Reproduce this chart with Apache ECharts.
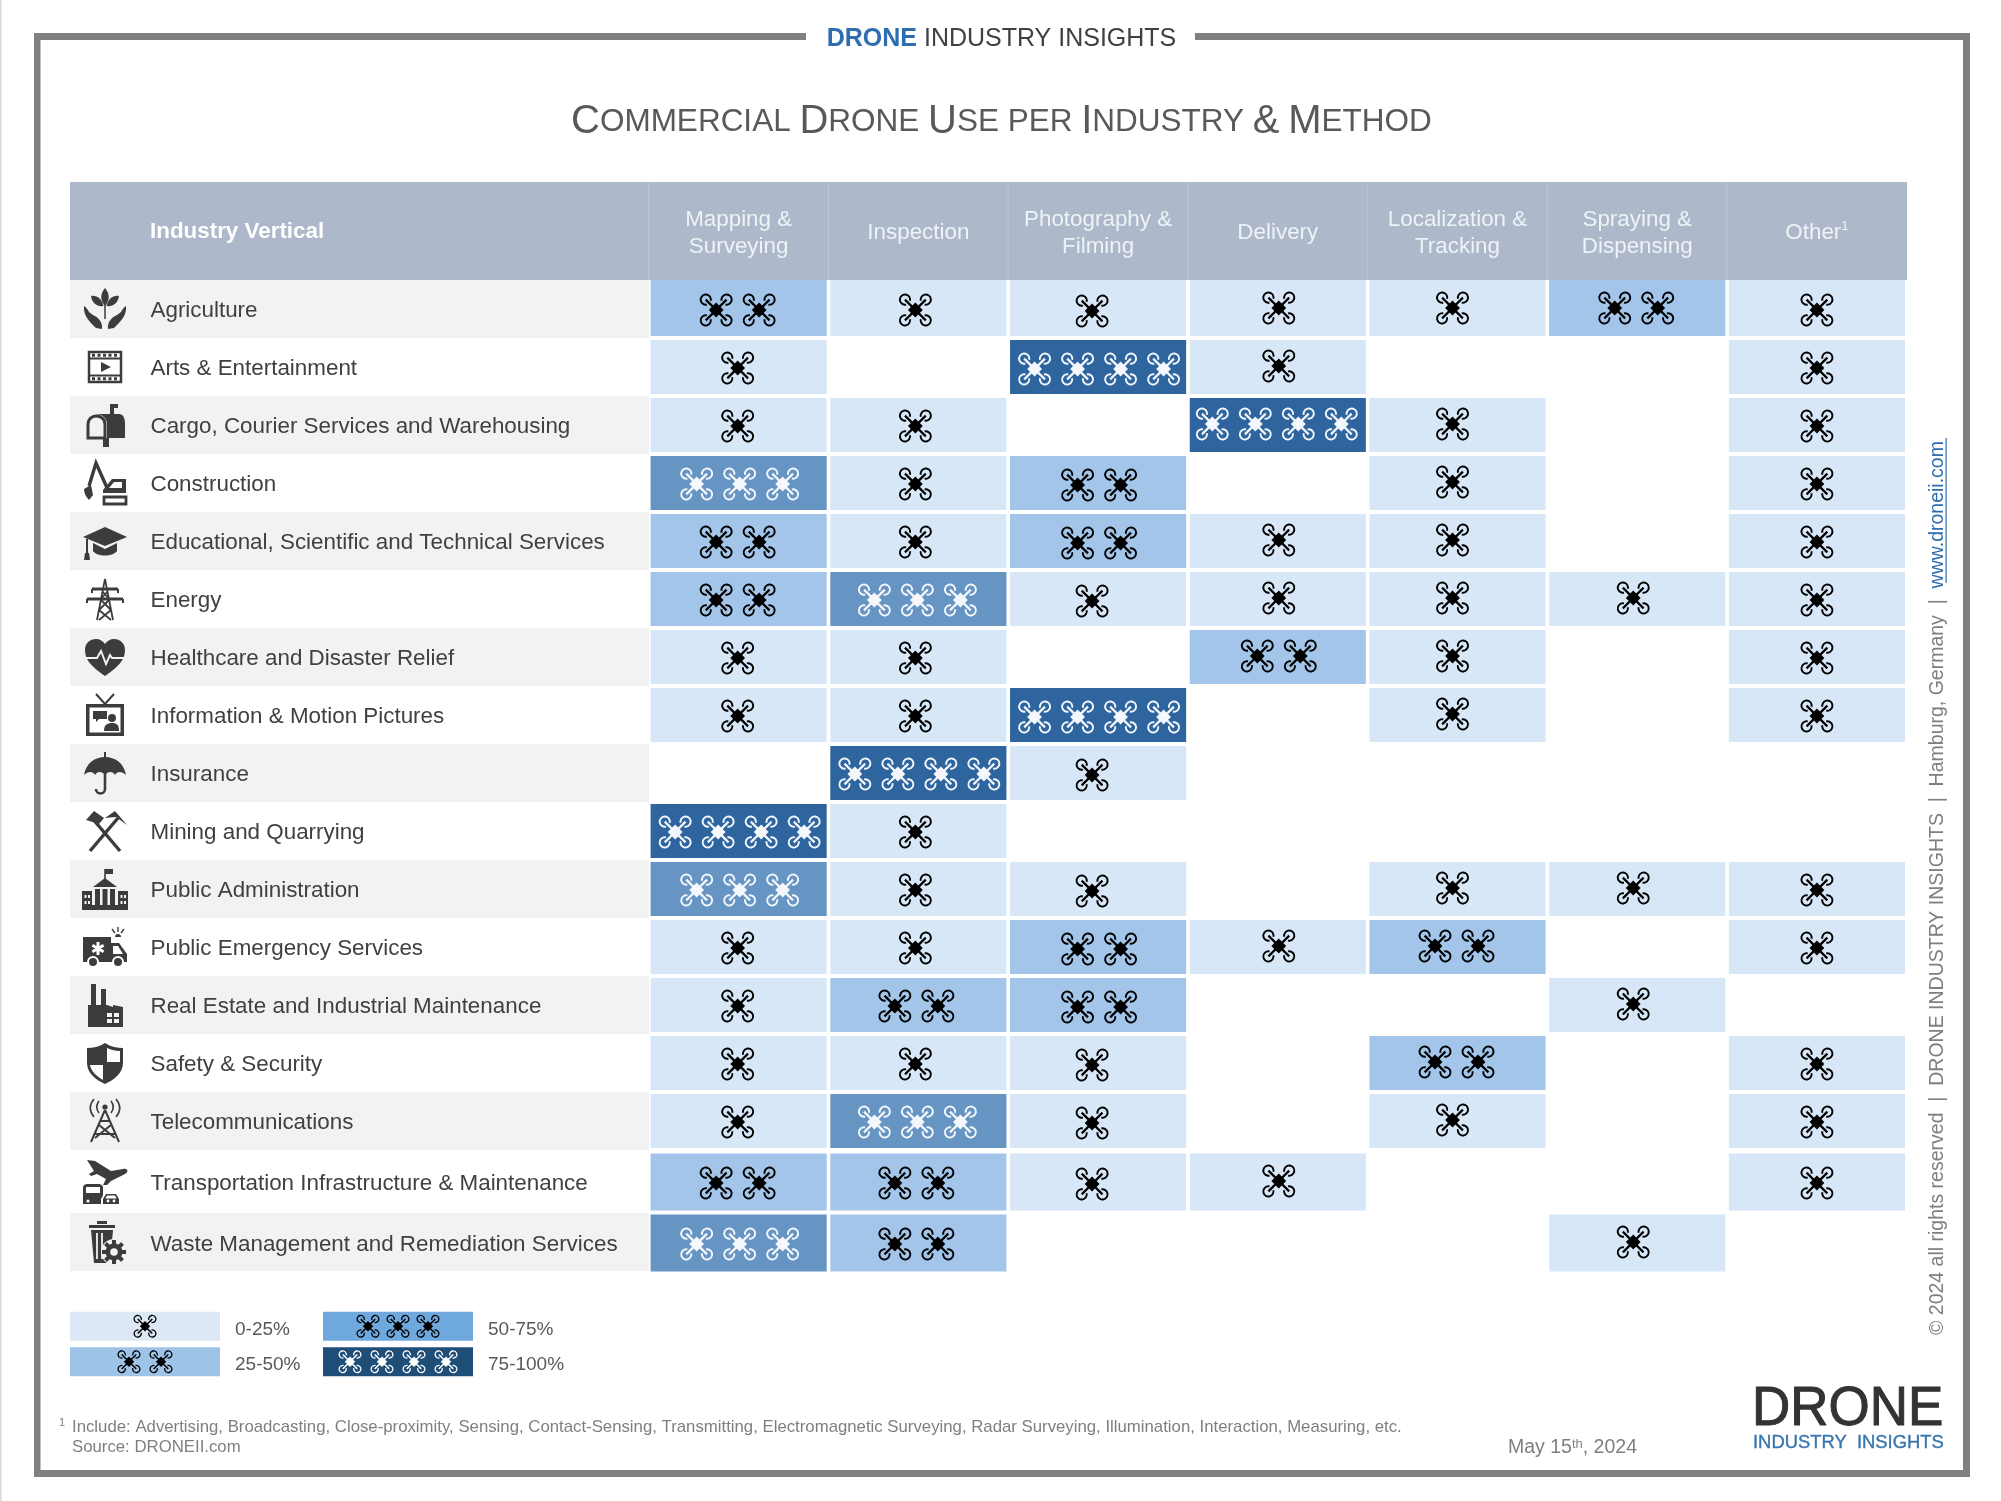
<!DOCTYPE html>
<html><head><meta charset="utf-8"><style>html,body{margin:0;padding:0;background:#fff}#c{width:2001px;height:1501px}</style>
<script src="https://cdn.jsdelivr.net/npm/echarts@6/dist/echarts.min.js"></script></head>
<body><div id="c"></div>
<script>
// ---------- data ----------
const methods = ['Mapping &\nSurveying','Inspection','Photography &\nFilming','Delivery','Localization &\nTracking','Spraying &\nDispensing','Other'];
const industries = ['Agriculture','Arts & Entertainment','Cargo, Courier Services and Warehousing','Construction','Educational, Scientific and Technical Services','Energy','Healthcare and Disaster Relief','Information & Motion Pictures','Insurance','Mining and Quarrying','Public Administration','Public Emergency Services','Real Estate and Industrial Maintenance','Safety & Security','Telecommunications','Transportation Infrastructure & Maintenance','Waste Management and Remediation Services'];
// drones per cell (0 = empty, 1 = 0-25%, 2 = 25-50%, 3 = 50-75%, 4 = 75-100%), one list per method
const mapping      = [2,1,1,3,2,2,1,1,0,4,3,1,1,1,1,2,3];
const inspection   = [1,0,1,1,1,3,1,1,4,1,1,1,2,1,3,2,2];
const photography  = [1,4,0,2,2,1,0,4,1,0,1,2,2,1,1,1,0];
const delivery     = [1,1,4,0,1,1,2,0,0,0,0,1,0,0,0,1,0];
const localization = [1,0,1,1,1,1,1,1,0,0,1,2,0,2,1,0,0];
const spraying     = [2,0,0,0,0,1,0,0,0,0,1,0,1,0,0,0,1];
const other        = [1,1,1,1,1,1,1,1,0,0,1,1,0,1,1,1,0];
const legendLabels = ['0-25%','25-50%','50-75%','75-100%'];
const byMethod = [mapping,inspection,photography,delivery,localization,spraying,other];

// ---------- styles ----------
const FONT = '"Liberation Sans", Arial, sans-serif';
const cellColors = ['#D8E7F7','#A2C5E9','#6694C3','#2F659F'];
const legendColors = ['#DCE8F5','#9DC3E6','#6FA8DC','#1F4E79'];
const DARK = '#3C3C3C', STRIPE = '#F2F2F2';
// horizontal nudges of the drone groups, per column then per drone count
const glyphDx = [[-1,-1,1,1],[-3,-2,-1,1],[-6,1,1,1],[1,1,1,-1],[-5,-1,-1,-1],[-4,-1,-1,-1],[0,0,0,0]];
const glyphDy = [1,1,2,-1,-1,-1,1];

// ---------- drone glyph ----------
const ringPath = (function(){
  let d = '';
  const c = 10.4, r = 5.1;
  [[1,1],[1,-1],[-1,1],[-1,-1]].forEach(([sx,sy])=>{
    const cx = c*sx, cy = c*sy, th = Math.atan2(-sy,-sx), g = 32*Math.PI/180;
    const x1 = cx + r*Math.cos(th+g), y1 = cy + r*Math.sin(th+g);
    const x2 = cx + r*Math.cos(th-g), y2 = cy + r*Math.sin(th-g);
    d += `M${x1.toFixed(2)} ${y1.toFixed(2)}A${r} ${r} 0 1 1 ${x2.toFixed(2)} ${y2.toFixed(2)}`;
  });
  return d;
})();
const armPath = 'M-10.4 -10.4L10.4 10.4M-10.4 10.4L10.4 -10.4';
const bodyPath = 'M0 -7.4L7.4 0L0 7.4L-7.4 0Z';
function drone(x,y,s,color){
  return [
    {type:'path',x,y,scaleX:s,scaleY:s,shape:{pathData:ringPath},style:{fill:'none',stroke:color,lineWidth:1.9}},
    {type:'path',x,y,scaleX:s,scaleY:s,shape:{pathData:armPath},style:{fill:'none',stroke:color,lineWidth:2.2}},
    {type:'path',x,y,scaleX:s,scaleY:s,shape:{pathData:bodyPath},style:{fill:color}}
  ];
}
function drones(cx,cy,n,step,s,color){
  let out = [];
  for(let i=0;i<n;i++) out = out.concat(drone(cx+(i-(n-1)/2)*step,cy,s,color));
  return out;
}

// ---------- icons, 48x48 box: [path, mode] mode f=dark fill, b=background fill, s<w>=dark stroke, k<w>=background stroke ----------
const circ = (x,y,r)=>`M${x-r} ${y}a${r} ${r} 0 1 0 ${2*r} 0a${r} ${r} 0 1 0 ${-2*r} 0Z`;
const icons = [
 [['M24 3C29 9 29 15 24 21C19 15 19 9 24 3Z','f'],['M10 11C16 10 21 14 22.5 21C16 22 11 18 10 11Z','f'],['M38 11C32 10 27 14 25.5 21C32 22 37 18 38 11Z','f'],['M24 18V34','s1.5'],['M3 21C2 31 9 37 15 43L21 44C22 37 17 32 12 30L8 27C7 25 5 22 3 21Z','f'],['M45 21C46 31 39 37 33 43L27 44C26 37 31 32 36 30L40 27C41 25 43 22 45 21Z','f']],
 [['M8 9H40V39H8Z','s2.5'],['M8 15.5H40M8 32.5H40','s2'],['M11 10.8h3v3h-3zM16.5 10.8h3v3h-3zM22 10.8h3v3h-3zM27.5 10.8h3v3h-3zM33 10.8h3v3h-3zM11 34.2h3v3h-3zM16.5 34.2h3v3h-3zM22 34.2h3v3h-3zM27.5 34.2h3v3h-3zM33 34.2h3v3h-3z','f'],['M20 19L30 24L20 29Z','f']],
 [['M14 13H38C42 13 44 17 44 23V37H26V23C26 17 21 13 14 13Z','f'],['M7 37V23C7 18 11 15 15 15C20 15 24 18 24 23V37Z','s3'],['M22 37h6v9h-6z','f'],['M29 3h8v4h-4v9h-4z','f']],
 [['M3 30L10 26L12 36L8 41C5 38 3 34 3 30Z','f'],['M8 27L15 4L27 31','s3.4'],['M22 31L31 20H45V34H22Z','f'],['M33 23H41V29H28Z','b'],['M23 38H45V45H23Z','s2.8']],
 [['M2 20L24 10L46 20L24 29Z','f'],['M12 26L24 32L36 26V34C32 40 16 40 12 34Z','f'],['M6 22V36','s2'],['M4 36h4l1 7H3z','f']],
 [['M24 4L16 45M24 4L32 45M18 35L30 45M30 35L18 45M20 25L30 35M28 25L18 35M21 16L29 25M27 16L19 25','s1.8'],['M11 14H37M6 24H42','s3'],['M11 14V18M37 14V18M6 24V28M42 24V28','s2']],
 [['M24 43C10 33 4 27 4 17C4 10 9 6 15 6C19 6 22 8 24 11C26 8 29 6 33 6C39 6 44 10 44 17C44 27 38 33 24 43Z','f'],['M4 25H16L20 18L25 31L29 22L31 25H44','k2']],
 [['M5 13H43V45H5Z','f'],['M8.5 16.5H39.5V41.5H8.5Z','b'],['M15 3L24 13L33 3','s2'],['M12 20h14v8h-8l-3 3v-3h-3z','f'],[circ(31,27,4),'f'],['M23 40C23 34 26 32 31 32C36 32 38 34 38 40Z','f']],
 [['M3 26C5 14 14 8 24 8C34 8 43 14 45 26C41 22 36 22 34 26C32 22 27 22 24 26C21 22 16 22 14 26C12 22 7 22 3 26Z','f'],['M24 3V9','s2'],['M24 24V40C24 46 15 46 15 40','s2.6']],
 [['M9 44L37 11','s3.4'],['M39 44L11 11','s3.4'],['M5 13L13 4L23 11L18 17Z','f'],['M24 11L34 4L46 18L35 10Z','f']],
 [['M12 22L24 13L36 22Z','f'],['M24 14V4','s1.6'],['M24 4h8v5h-8z','f'],['M14 24h5v16h-5zM21.5 24h5v16h-5zM29 24h5v16h-5z','f'],['M10 40H38V45H10Z','f'],['M1 26H11V45H1Z','f'],['M37 26H47V45H37Z','f'],['M3.5 30h2v3h-2zM7 30h2v3h-2zM3.5 36h2v3h-2zM7 36h2v3h-2zM39.5 30h2v3h-2zM43 30h2v3h-2zM39.5 36h2v3h-2zM43 36h2v3h-2z','b']],
 [['M2 14H30V20H38L46 31V39H2Z','f'],['M17 19V32M11.4 22.2L22.6 28.8M22.6 22.2L11.4 28.8','k3'],['M32 23H37L42 31H32Z','b'],[circ(12,39,6),'b'],[circ(12,39,4),'f'],[circ(37,39,6),'b'],[circ(37,39,4),'f'],['M34 14a3 3 0 0 1 6 0Z','f'],['M37 4V9M31 6L34 10M43 6L40 10','s1.4']],
 [['M10 3h5v22h-5zM20 8h5v18h-5z','f'],['M7 24H26L32 26V24L42 26V46H7Z','f'],['M26 32h5v4h-5zM33 32h5v4h-5zM26 38h5v4h-5zM33 38h5v4h-5z','b']],
 [['M24 4C30 8 36 9 42 9V24C42 34 33 41 24 45C15 41 6 34 6 24V9C12 9 18 8 24 4Z','f'],['M26 9C30 11 35 12 39 12V23H26Z','b'],['M9 26H22V41C15 37 10 32 9 26Z','b']],
 [['M24 13L10 45M24 13L38 45M20 24H28M18 28L34 41M30 28L14 41M14 37H34','s2'],['M18 4C15 8 15 12 18 16M30 4C33 8 33 12 30 16M13 2C8 8 8 14 13 20M35 2C40 8 40 14 35 20','s1.6'],[circ(24,10,2.6),'f']],
 [['M6 2L14 3L30 13L42 11C47 10 48 14 44 16L30 23L26 27H22L25 21L16 16L10 18L8 16L13 13Z','f'],['M2 30C2 27 4 26 7 26H17C20 26 22 27 22 30V46H2Z','f'],['M5 29H19V35H5Z','b'],['M20 46V41L24 34H36L40 41V46Z','b'],['M22 46V41L25 36H35L38 41V46Z','f'],['M26 37.5H34L35.5 40.5H24.5Z','b'],[circ(7,43,1.6),'b'],[circ(27,43,1.4),'b'],[circ(33,43,1.4),'b']],
 [['M16 2h10v3H16zM8 6H34V9H8Z','f'],['M10 11H32L29 44H13Z','f'],['M16 14V40M21 14V40','k1.8'],[circ(33,33,13),'b'],['M33 21V45M21 33H45M24.5 24.5L41.5 41.5M41.5 24.5L24.5 41.5','s4'],[circ(33,33,8.5),'f'],[circ(33,33,3.8),'b']]
];
function iconEls(idx,cx,cy,bg){
  return icons[idx].map(([d,m])=>{
    const kind=m[0], w=+m.slice(1)||0;
    const style = kind==='f'?{fill:DARK}:kind==='b'?{fill:bg}:kind==='s'?{fill:'none',stroke:DARK,lineWidth:w}:{fill:'none',stroke:bg,lineWidth:w};
    return {type:'path',x:cx-24,y:cy-24,shape:{pathData:d},style};
  });
}

// ---------- series builders ----------
const FIRST = 15; // the last two rows sit in a second, slightly taller grid
function rowSeries(gridIdx,offset,count){
  const stripeData=[], cellData=[];
  for(let r=0;r<count;r++){
    stripeData.push([0,r,offset+r]);
    byMethod.forEach((vals,c)=>{ const lv=vals[offset+r]; if(lv>0) cellData.push([c,r,lv,offset+r]); });
  }
  return [
    {type:'custom',xAxisIndex:gridIdx,yAxisIndex:gridIdx,silent:true,z:1,clip:false,data:stripeData,
     renderItem(p,api){
       const y=api.coord([0,api.value(1)])[1], h=Math.min(api.size([1,1])[1],58), g=api.value(2);
       const bg=g%2===0?STRIPE:'#FFFFFF';
       const kids=iconEls(g,105,y,bg);
       if(g%2===0) kids.unshift({type:'rect',shape:{x:70,y:y-h/2+(g===16?-1:0),width:579,height:h},style:{fill:STRIPE}});
       return {type:'group',children:kids};
     }},
    {type:'custom',xAxisIndex:gridIdx,yAxisIndex:gridIdx,silent:true,z:2,clip:false,data:cellData,
     renderItem(p,api){
       const c=api.value(0), lv=api.value(2), g=api.value(3);
       const pt=api.coord([c,api.value(1)]), sz=api.size([1,1]);
       const w=sz[0]-3.6, h=sz[1]-4;
       const top=g===0?pt[1]-h/2-2:pt[1]-h/2, ht=g===0?h+2:h;
       const kids=[{type:'rect',shape:{x:pt[0]-w/2,y:top,width:w,height:ht},style:{fill:cellColors[lv-1]}}];
       return {type:'group',children:kids.concat(drones(pt[0]+glyphDx[c][lv-1],pt[1]+glyphDy[c],lv,43,1,lv>=3?'#F4F8FC':'#000000'))};
     }}
  ];
}
const headerSep = {type:'custom',xAxisIndex:0,yAxisIndex:0,silent:true,z:1,clip:false,data:methods.map((m,i)=>[i,0]),
  renderItem(p,api){
    const pt=api.coord([api.value(0),0]), bw=api.size([1,1])[0];
    return {type:'rect',shape:{x:pt[0]-bw/2-0.5,y:182,width:1,height:98},style:{fill:'#BCC6D5'}};
  }};
const legendData = legendLabels.map((l,i)=>[Math.floor(i/2),i%2,i+1,l]);
const legendSeries = {type:'custom',xAxisIndex:2,yAxisIndex:2,silent:true,z:2,clip:false,data:legendData,
  renderItem(p,api){
    const pt=api.coord([api.value(0),api.value(1)]), lv=api.value(2), i=lv-1;
    const kids=[{type:'rect',shape:{x:pt[0]-75,y:pt[1]-14.5,width:150,height:29},style:{fill:legendColors[i]}}];
    const rest=drones(pt[0],pt[1],lv,lv===3?30:32,0.7,lv===4?'#FFFFFF':'#000000');
    const txt={type:'text',x:pt[0]+90,y:pt[1]+3.5,style:{text:legendLabels[i],font:'19px '+FONT,fill:'#595959',align:'left',verticalAlign:'middle'}};
    return {type:'group',children:kids.concat(rest,[txt])};
  }};

// ---------- axes ----------
const hiddenAxis = {axisLine:{show:false},axisTick:{show:false},splitLine:{show:false}};
const rowLabel = {interval:0,align:'left',margin:498.3,color:'#404040',fontFamily:FONT,fontSize:22.4,verticalAlign:'top',lineHeight:3};
const option = {
  animation:false,
  backgroundColor:'#FFFFFF',
  textStyle:{fontFamily:FONT},
  title:{
    left:566,top:97,
    text:'{b|C}{s|OMMERCIAL} {b|D}{s|RONE} {b|U}{s|SE} {s|PER} {b|I}{s|NDUSTRY} {b|&} {b|M}{s|ETHOD}',
    textStyle:{color:'#595959',fontFamily:FONT,fontSize:31.5,fontWeight:'normal',
      rich:{b:{fontSize:40,color:'#595959',fontFamily:FONT},s:{fontSize:31.5,color:'#595959',fontFamily:FONT}}}
  },
  grid:[
    {left:648.8,top:280,width:1258,height:58*FIRST,outerBoundsMode:'none'},
    {left:648.8,top:1151.5,width:1258,height:122,outerBoundsMode:'none'},
    {left:18.5,top:1308.5,width:506,height:71,outerBoundsMode:'none'}
  ],
  xAxis:[
    Object.assign({type:'category',gridIndex:0,position:'top',z:5,data:methods,
      axisLabel:{interval:0,margin:47,verticalAlign:'middle',color:'#EFF2F6',fontFamily:FONT,fontSize:22.4,lineHeight:27,
        formatter:v=>v==='Other'?'Other{sup|1}':v,
        rich:{sup:{fontSize:13,color:'#EFF2F6',fontFamily:FONT,verticalAlign:'top',lineHeight:27}}}},hiddenAxis),
    Object.assign({type:'category',gridIndex:1,data:methods,axisLabel:{show:false}},hiddenAxis),
    Object.assign({type:'category',gridIndex:2,data:['low','high'],axisLabel:{show:false}},hiddenAxis)
  ],
  yAxis:[
    Object.assign({type:'category',gridIndex:0,inverse:true,z:5,data:industries.slice(0,FIRST),axisLabel:rowLabel},hiddenAxis),
    Object.assign({type:'category',gridIndex:1,inverse:true,z:5,data:industries.slice(FIRST),axisLabel:rowLabel},hiddenAxis),
    Object.assign({type:'category',gridIndex:2,inverse:true,data:['a','b'],axisLabel:{show:false}},hiddenAxis)
  ],
  series:[headerSep,legendSeries].concat(rowSeries(0,0,FIRST),rowSeries(1,FIRST,industries.length-FIRST)),
  graphic:{elements:[
    {type:'rect',z:-1,shape:{x:0,y:0,width:1.5,height:1501},style:{fill:'#D9D9D9'}},
    {type:'rect',z:-1,shape:{x:34,y:33,width:772,height:7},style:{fill:'#808080'}},
    {type:'rect',z:-1,shape:{x:1195,y:33,width:775,height:7},style:{fill:'#808080'}},
    {type:'rect',z:-1,shape:{x:34,y:33,width:6.5,height:1444},style:{fill:'#808080'}},
    {type:'rect',z:-1,shape:{x:1963,y:33,width:7,height:1444},style:{fill:'#808080'}},
    {type:'rect',z:-1,shape:{x:34,y:1470,width:1936,height:7},style:{fill:'#808080'}},
    {type:'rect',z:-1,shape:{x:70,y:182,width:1837,height:98},style:{fill:'#ADB9CA'}},
    {type:'text',z:6,x:150,y:232,style:{text:'Industry Vertical',font:'bold 22.4px '+FONT,fill:'#FFFFFF',align:'left',verticalAlign:'middle'}},
    {type:'text',z:6,x:1001.5,y:39,style:{text:'{d|DRONE} INDUSTRY INSIGHTS',font:'25px '+FONT,fill:'#404040',align:'center',verticalAlign:'middle',
       rich:{d:{fill:'#2E6DB0',fontSize:25,fontWeight:'bold',fontFamily:FONT}}}},
    {type:'text',z:6,x:59,y:1423,style:{text:'1',font:'11px '+FONT,fill:'#7F7F7F',align:'left',verticalAlign:'middle'}},
    {type:'text',z:6,x:72,y:1427,style:{text:'Include: Advertising, Broadcasting, Close-proximity, Sensing, Contact-Sensing, Transmitting, Electromagnetic Surveying, Radar Surveying, Illumination, Interaction, Measuring, etc.',font:'16.78px '+FONT,fill:'#7F7F7F',align:'left',verticalAlign:'middle'}},
    {type:'text',z:6,x:72,y:1447,style:{text:'Source: DRONEII.com',font:'16.78px '+FONT,fill:'#7F7F7F',align:'left',verticalAlign:'middle'}},
    {type:'text',z:6,x:1508,y:1448,style:{text:'May 15{sup|th}, 2024',font:'19.5px '+FONT,fill:'#7F7F7F',align:'left',verticalAlign:'middle',
       rich:{sup:{fontSize:13,fill:'#7F7F7F',fontFamily:FONT,verticalAlign:'top'}}}},
    {type:'text',z:6,x:1752,y:1438,scaleY:1.06,style:{text:'DRONE',font:'53px '+FONT,fill:'#333333',stroke:'#333333',lineWidth:1,align:'left',verticalAlign:'bottom'}},
    {type:'text',z:6,x:1753,y:1443,style:{text:'INDUSTRY  INSIGHTS',font:'18.4px '+FONT,fill:'#3A76AE',stroke:'#3A76AE',lineWidth:0.4,align:'left',verticalAlign:'middle'}},
    {type:'text',z:6,x:1938,y:1335,rotation:Math.PI/2,style:{text:'© 2024 all rights reserved  |  DRONE INDUSTRY INSIGHTS  |  Hamburg, Germany  |  {l|www.droneii.com}',font:'19.5px '+FONT,fill:'#7F7F7F',align:'left',verticalAlign:'middle',
       rich:{l:{fontSize:19.5,fontFamily:FONT,fill:'#2E6DB0'}}}},
    {type:'rect',z:6,shape:{x:1945.5,y:438,width:1.2,height:145},style:{fill:'#2E6DB0'}}
  ]}
};
echarts.init(document.getElementById('c'),null,{renderer:'canvas'}).setOption(option);
</script></body></html>
